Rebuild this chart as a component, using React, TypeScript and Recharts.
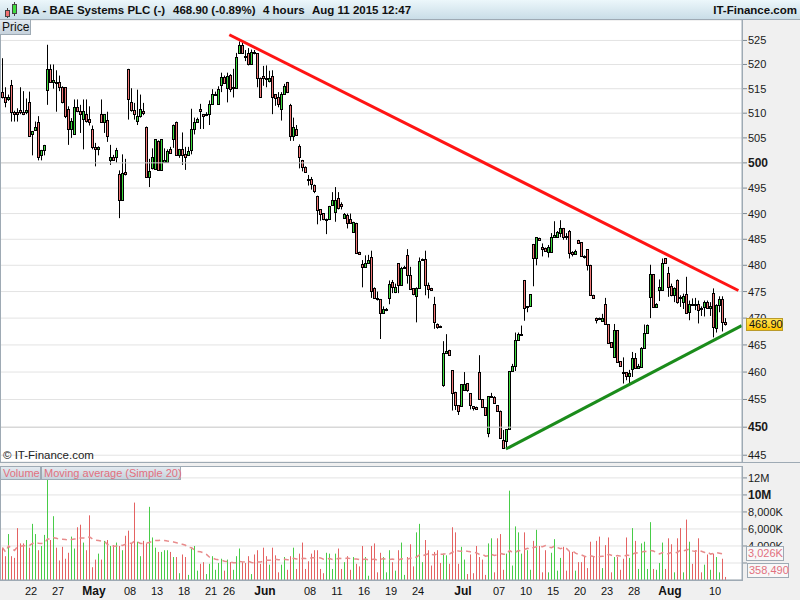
import React from 'react';
import { ComposedChart, Bar, Line, XAxis, YAxis, CartesianGrid, ReferenceLine } from 'recharts';

const FONT = "'Liberation Sans', Arial, sans-serif";

type OHLC = [number, number, number, number];

// 4-hour candles: [open, high, low, close]
const ohlcPart1: OHLC[] = [
  [514.3,521.3,513.0,513.2],[513.2,515.3,511.2,512.2],[512.9,513.8,512.5,513.2],[515.7,516.8,508.3,510.3],
  [510.3,510.5,508.3,509.8],[510.3,511.0,508.3,509.8],[510.7,515.3,509.8,510.3],[510.3,514.5,509.6,509.8],
  [510.3,513.0,509.8,510.6],[512.2,514.4,505.3,505.3],[505.7,506.4,501.5,506.4],[506.6,508.3,506.4,507.3],
  [508.3,509.4,500.5,501.2],[501.6,502.6,500.5,502.6],[502.6,503.6,501.5,503.6],[514.8,524.1,511.7,519.1],
  [519.1,520.0,516.3,516.3],[516.3,520.0,515.0,516.8],[516.4,518.8,510.3,516.3],[516.3,517.7,514.5,515.3],
  [515.3,515.5,512.0,512.2],[515.3,515.3,509.0,509.4],[510.9,511.4,503.6,506.8],[506.8,509.0,505.0,508.5],
  [505.7,512.8,505.7,511.2],[511.2,512.8,510.2,510.5],[510.5,511.7,506.0,509.8],[508.8,512.8,502.7,510.5],
  [509.8,512.8,508.1,508.5],[508.8,511.4,507.5,508.3],[506.8,507.5,502.7,503.2],[503.2,504.0,499.3,502.7],
  [502.7,503.3,501.5,503.2],[509.8,512.8,508.1,508.3],[508.3,509.8,506.0,509.8],[508.7,510.3,504.2,505.3],
  [500.5,503.6,499.6,501.2],[501.2,501.6,500.5,500.5],[501.2,503.0,500.0,502.6],[497.8,498.5,489.1,492.6],
  [492.6,501.7,492.6,497.9],[498.1,500.8,497.5,497.7],[519.1,519.1,508.7,512.8],[512.2,515.1,510.3,510.7],
  [510.7,512.1,508.7,509.9],[508.5,514.8,507.6,509.4],[509.4,513.8,509.1,510.9],[510.5,512.1,509.6,510.0],
  [507.3,507.3,497.2,497.2],[497.2,500.8,495.2,498.3],[499.0,502.9,498.7,501.2],[498.7,504.7,498.7,504.7],
  [504.3,504.5,498.5,498.5],[498.5,504.7,498.5,504.7],[500.2,502.9,500.0,500.6],[500.2,502.7,500.0,502.3],
  [502.7,503.2,501.9,501.9],[504.7,507.7,503.0,507.7],[508.3,508.3,501.6,501.6],[501.6,502.8,501.0,502.7],
  [502.7,506.1,499.6,501.6],
];

const ohlcPart2: OHLC[] = [
  [501.7,503.2,498.6,501.2],[501.5,503.2,501.5,502.3],[502.6,510.9,501.7,506.8],[506.8,509.1,505.7,508.3],
  [508.3,509.1,508.3,508.8],[510.9,511.9,506.8,510.4],[509.8,509.8,506.8,509.4],[509.6,510.2,509.4,509.8],
  [509.8,512.6,507.6,511.8],[511.8,514.9,511.7,513.9],[513.8,514.4,513.6,513.9],[511.8,515.5,511.8,514.9],
  [515.7,518.3,514.3,517.5],[517.5,517.7,516.0,516.2],[515.2,518.3,512.2,517.7],[517.8,518.0,514.3,514.9],
  [515.2,519.1,513.2,515.3],[515.2,522.4,515.2,521.6],[522.3,524.8,522.3,524.1],[524.1,524.5,522.3,522.3],
  [521.7,523.0,520.7,521.6],[522.4,523.4,519.8,520.2],[520.2,523.1,520.2,522.6],[522.6,523.0,522.1,522.3],
  [522.3,522.3,515.3,517.3],[517.3,517.3,513.2,513.2],[517.7,519.7,515.6,517.3],[517.3,519.8,515.3,517.1],
  [516.6,518.7,516.3,517.3],[517.7,518.8,509.8,513.2],[513.9,513.9,511.5,513.1],[513.2,514.3,511.2,511.9],
  [510.9,514.3,508.5,513.9],[513.9,516.0,513.9,515.6],[516.3,516.4,514.1,514.3],[511.7,511.9,504.4,505.4],
  [505.3,509.1,504.4,507.2],[506.8,507.6,505.6,505.6],[503.4,503.7,498.9,501.2],[500.6,500.6,498.3,499.1],
  [499.1,499.3,498.1,498.1],[496.8,497.6,495.5,496.7],[496.7,497.2,494.7,495.9],[495.7,495.7,494.0,494.4],
  [493.5,493.5,487.9,490.6],[490.8,490.8,488.6,490.0],[490.1,490.1,488.7,489.0],[489.0,489.0,486.0,489.0],
  [489.0,491.5,489.0,491.5],[491.7,494.2,491.5,492.6],[490.3,495.2,488.4,492.7],[493.0,494.2,490.8,491.0],
  [491.8,492.2,490.8,491.5],[489.2,490.1,489.2,489.9],[489.7,490.0,487.1,488.1],[489.0,490.0,488.1,488.2],
  [486.5,488.4,486.5,488.3],[488.2,488.2,482.4,482.4],[482.6,482.6,482.1,482.1],[480.2,481.0,475.8,479.6],
  [479.7,481.9,479.7,480.4],[480.4,482.0,480.4,481.0],[481.5,482.8,473.8,475.1],
];

const ohlcPart3: OHLC[] = [
  [475.6,475.8,473.7,473.8],[473.8,475.0,473.3,473.6],[473.6,473.6,466.1,470.9],[470.9,472.2,470.9,471.7],
  [471.5,471.9,471.3,471.7],[473.8,477.1,472.6,476.5],[476.8,477.2,474.7,475.8],[474.9,476.5,474.7,475.8],
  [480.4,480.4,474.7,476.2],[476.2,479.7,476.2,479.4],[479.4,479.9,479.3,479.6],[482.0,483.1,476.5,478.1],
  [478.1,479.7,475.5,475.5],[475.6,475.6,474.3,474.5],[474.2,475.8,469.2,475.6],[475.6,481.5,475.6,480.8],
  [481.0,481.3,481.0,481.2],[481.2,482.8,474.3,476.2],[476.3,476.7,473.7,475.4],[475.6,475.7,475.2,475.3],
  [472.7,474.0,468.0,469.2],[468.9,469.0,468.0,468.4],[468.5,468.6,468.3,468.4],[457.6,465.7,457.3,463.5],
  [463.5,467.0,463.4,463.8],[464.0,464.1,463.2,463.2],[460.3,460.3,453.0,456.2],[456.4,456.4,453.1,454.0],
  [454.0,454.0,452.2,453.0],[453.8,457.8,453.7,457.8],[456.8,460.0,456.8,457.9],[458.0,458.0,456.4,456.7],
  [456.1,456.1,453.2,454.0],[453.8,453.8,453.0,453.4],[453.6,453.7,453.1,453.2],[460.0,463.1,455.0,455.0],
  [455.0,455.0,453.6,453.6],[453.6,453.6,452.2,452.2],[449.0,455.6,448.2,455.6],[455.4,456.2,455.3,455.6],
  [455.5,455.6,454.4,454.4],[454.0,454.0,453.0,453.0],[453.0,453.0,448.0,448.0],[447.7,449.5,446.1,446.3],
  [447.6,449.6,446.3,449.6],[449.6,460.2,449.6,460.2],[460.2,461.5,460.2,461.2],[461.2,467.3,460.2,465.9],
  [465.9,467.3,465.9,467.0],[466.8,468.6,466.7,467.0],[477.2,477.2,469.5,471.9],[472.1,472.2,471.1,472.2],
  [472.2,474.5,472.2,474.5],[484.1,484.1,476.0,481.3],[481.3,485.4,480.0,485.4],[485.2,485.3,484.8,484.9],
  [483.5,484.2,481.7,483.1],[483.3,483.4,482.7,482.8],[482.6,483.9,481.5,483.5],[482.6,486.2,482.6,485.5],
  [485.4,488.5,485.3,485.8],[485.5,486.6,485.4,486.5],
];

const ohlcPart4: OHLC[] = [
  [486.2,488.7,485.4,487.1],[487.1,487.2,484.9,485.5],[485.6,486.2,484.9,485.4],[486.7,486.8,481.3,482.4],
  [482.6,482.7,481.7,482.2],[482.2,483.0,482.2,482.8],[484.9,484.9,484.2,484.2],[484.4,484.4,481.7,481.8],
  [481.8,481.9,481.3,481.5],[483.1,483.1,479.0,480.1],[480.1,480.1,474.3,474.3],[474.4,474.4,473.7,473.7],
  [470.0,470.1,469.0,469.7],[470.0,470.1,469.7,469.8],[469.5,470.8,469.4,470.1],[472.7,473.8,468.8,468.9],
  [468.9,468.9,465.3,465.3],[465.5,465.5,464.6,464.6],[462.7,468.9,462.7,467.7],[467.7,467.7,461.8,461.8],
  [462.0,462.0,461.2,461.2],[460.0,462.7,457.9,459.9],[460.0,460.0,458.5,459.3],[459.3,460.4,457.6,459.9],
  [460.6,463.7,459.1,462.6],[462.6,463.5,460.8,460.8],[460.8,461.5,460.8,461.2],[461.0,464.6,460.8,464.5],
  [464.5,468.8,464.5,467.3],[467.3,468.8,467.3,468.8],[474.0,480.1,470.0,478.3],[478.3,478.3,472.1,472.1],
  [472.1,472.8,472.1,472.7],[475.3,477.3,473.2,475.8],[475.3,481.3,475.3,480.5],[481.3,481.3,480.4,480.4],
  [478.5,479.7,474.0,475.8],[476.0,476.5,474.1,474.3],[474.3,475.8,473.0,475.6],[477.2,477.3,472.7,473.0],
  [474.0,474.3,472.1,473.7],[473.0,474.6,471.7,474.1],[474.5,477.8,470.8,470.9],[471.1,473.3,469.6,472.7],
  [472.7,473.7,472.5,472.6],[472.7,473.8,471.5,472.6],[472.7,473.3,469.0,471.5],[471.9,472.2,470.4,471.7],
  [472.1,473.3,470.3,473.0],[473.0,473.3,471.9,471.9],[471.9,473.0,470.4,472.2],[474.7,475.6,466.4,468.3],
  [468.1,472.6,467.3,472.4],[472.4,474.1,471.1,473.5],[473.5,474.1,467.5,469.2],[469.2,470.0,468.6,468.9],
];

// volume in millions of shares, one per candle
const volumeM: number[] = [
  3.8,2.8,5.4,2.8,2.6,6.1,4.3,4.3,4.7,3.8, 6.6,5.4,3.5,4.0,5.3,11.8,4.7,7.5,3.8,2.3,
  3.9,2.5,3.2,5.1,3.7,6.2,6.5,4.4,3.5,7.6, 1.5,2.4,3.1,2.4,4.6,4.7,4.0,4.1,4.4,4.0,
  3.5,5.2,5.8,4.3,9.1,4.5,2.8,4.6,4.3,8.6, 5.0,3.8,3.3,3.3,3.5,3.5,3.3,2.7,2.7,0.8,
  3.0,2.7,0.6,3.7,4.0,1.1,1.9,2.1,0.7,1.9, 2.8,1.2,2.0,2.5,1.1,2.4,2.1,1.2,2.8,3.7,
  2.1,2.0,2.8,0.7,3.0,3.5,1.9,3.8,2.8,1.8, 3.8,2.9,0.9,1.8,2.7,1.2,2.8,3.8,1.3,3.1,
  4.4,1.3,2.2,3.1,3.5,3.5,1.3,0.8,3.2,3.1, 1.3,3.1,3.7,1.3,2.1,2.8,1.2,2.7,1.9,1.6,
  4.0,2.7,0.5,4.0,4.3,0.9,3.2,2.7,0.9,3.5, 2.1,1.1,
  3.5,4.4,0.6,2.7,4.2,1.6,5.6,6.6,2.1,4.7, 3.5,1.7,3.3,3.5,2.0,3.1,2.9,1.9,6.2,5.6,
  1.9,3.9,2.4,0.7,3.0,0.8,4.0,2.7,2.4,0.6, 4.3,4.9,0.9,4.9,5.4,1.2,3.1,10.5,1.7,6.3,
  5.6,3.1,5.6,3.5,1.2,4.6,5.9,4.0,0.9,3.5, 0.9,3.2,4.8,1.1,2.6,3.9,1.1,3.4,3.3,1.1,
  2.1,2.1,2.7,1.4,4.5,2.8,4.6,5.1,1.4,4.1, 5.0,0.9,2.7,2.7,1.2,2.5,5.0,2.6,6.1,4.6,
  1.3,4.3,4.5,1.3,6.8,1.3,1.2,2.0,4.4,1.3, 4.9,4.2,0.9,4.9,6.1,0.9,7.1,4.5,1.9,3.5,
  4.9,0.9,1.8,3.0,1.2,3.1,2.7,0.9,2.5,0.358,
];

const xTickIdx = [9, 18, 30, 42, 51, 60, 69, 75, 87, 102, 111, 120, 129, 138, 153, 165, 174, 183, 192, 201, 210, 222, 237];
const xTickLabels = ['22','27','May','08','13','18','21','26','Jun','08','11','16','19','24','Jul','07','10','15','20','23','28','Aug','10'];

const priceTicks = [445,450,455,460,465,470,475,480,485,490,495,500,505,510,515,520,525];
const boldPrices = [450, 500];
const volTicks = [2, 4, 6, 8, 10, 12];
// the 2M label sits fully under the last-volume marker, so it shows no text
const volTickLabels = ['','4,000K','6,000K','8,000K','10M','12M'];

const resistance = [{ x: 75.6, y: 526.2 }, { x: 245.3, y: 475.2 }];
const support = [{ x: 167.8, y: 446.1 }, { x: 246.4, y: 468.6 }];

const lastPrice = '468.90';
const lastMA = '3,026K';
const lastVol = '358,490';

const SLOT_DOMAIN: [number, number] = [-0.5, 246.5];
const PRICE_DOMAIN: [number, number] = [443.8, 529.3];
const VOL_DOMAIN: [number, number] = [0, 13.4];

const CRED = '#f27878';
const CGREEN = '#3fdc3f';
const VRED = '#e46262';
const VGREEN = '#48cc48';
const BORDER = '#9eaab4';

const ohlc: OHLC[] = [...ohlcPart1, ...ohlcPart2, ...ohlcPart3, ...ohlcPart4];

const data = ohlc.map(([o, h, l, c], i) => {
  const start = Math.max(0, i - 19);
  const win = volumeM.slice(start, i + 1);
  return {
    i, o, h, l, c,
    range: [l, h],
    vol: volumeM[i],
    ma: win.reduce((a, b) => a + b, 0) / win.length,
  };
});

const renderCandle = (props: any) => {
  const { x, y, width, height, payload } = props;
  if (!payload || x == null || y == null) return <g />;
  const yTop = Math.min(y, y + height);
  const hh = Math.abs(height);
  const cx = Math.floor(x + width / 2) + 0.5;
  const { o, h, l, c } = payload;
  const span = Math.log(h) - Math.log(l);
  const k = span > 0 ? hh / span : 0;
  const py = (v: number) => yTop + (Math.log(h) - Math.log(v)) * k;
  const top = Math.round(Math.min(py(o), py(c))) + 0.5;
  let bot = Math.round(Math.max(py(o), py(c))) + 0.5;
  if (bot - top < 1) bot = top + 1;
  const up = c >= o;
  return (
    <g>
      <line x1={cx} x2={cx} y1={yTop} y2={yTop + hh} stroke="#000" strokeWidth={1} />
      <rect x={cx - 1} y={top} width={2} height={bot - top} fill={up ? CGREEN : CRED} stroke="#000" strokeWidth={1} />
    </g>
  );
};

const renderVolBar = (props: any) => {
  const { x, y, width, height, payload } = props;
  if (!payload || !height) return <g />;
  const cx = Math.floor(x + width / 2);
  const up = payload.c >= payload.o;
  return <rect x={cx} y={Math.min(y, y + height)} width={1} height={Math.abs(height)} fill={up ? VGREEN : VRED} />;
};

const PriceTick = (props: any) => {
  const { x, y, payload } = props;
  const v = payload.value;
  const b = boldPrices.includes(v);
  return (
    <text x={x} y={y} dy={4} textAnchor="start" fontSize={b ? 12 : 11} fontWeight={b ? 'bold' : 'normal'} fill="#1a1a1a" fontFamily={FONT}>
      {v}
    </text>
  );
};

const VolTick = (props: any) => {
  const { x, y, payload } = props;
  const idx = volTicks.indexOf(payload.value);
  const label = volTickLabels[idx];
  if (!label) return <g />;
  const b = label === '10M';
  return (
    <text x={x} y={y} dy={4} textAnchor="start" fontSize={b ? 12 : 11} fontWeight={b ? 'bold' : 'normal'} fill="#1a1a1a" fontFamily={FONT}>
      {label}
    </text>
  );
};

const DateTick = (props: any) => {
  const { x, y, payload } = props;
  const label = xTickLabels[xTickIdx.indexOf(payload.value)] || '';
  const isMonth = /[A-Za-z]/.test(label);
  return (
    <text x={x + 1.5} y={y + 7} textAnchor="middle" fontSize={isMonth ? 12 : 11} fontWeight={isMonth ? 'bold' : 'normal'} fill="#111" fontFamily={FONT}>
      {label}
    </text>
  );
};

const abs = (s: React.CSSProperties): React.CSSProperties => ({ position: 'absolute', ...s });

const legendBox: React.CSSProperties = {
  background: 'linear-gradient(#e3eaf0, #c6d2dc)',
  border: `1px solid ${BORDER}`,
  boxSizing: 'border-box',
  color: '#e2707e',
  fontSize: 11,
  lineHeight: '12px',
  paddingLeft: 2,
  whiteSpace: 'nowrap',
};

const headerText: React.CSSProperties = {
  fontSize: 11.5,
  fontWeight: 'bold',
  color: '#111',
  lineHeight: '14px',
  whiteSpace: 'nowrap',
};

export default function App() {
  return (
    <div style={{ position: 'fixed', left: 0, top: 0, width: 800, height: 600, background: '#f0f0f0', overflow: 'hidden', fontFamily: FONT }}>
      {/* price panel */}
      <div style={abs({ left: 0, top: 0 })}>
        <ComposedChart width={800} height={463} data={data} margin={{ top: 20, right: 0, bottom: 1, left: 1 }}>
          <CartesianGrid vertical={false} stroke="#e3e3e3" fill="#ffffff" />
          <XAxis type="number" dataKey="i" domain={SLOT_DOMAIN} allowDataOverflow hide />
          <YAxis
            orientation="right"
            scale="log"
            type="number"
            domain={PRICE_DOMAIN}
            allowDataOverflow
            ticks={priceTicks}
            interval={0}
            width={58}
            axisLine={{ stroke: BORDER }}
            tickLine={{ stroke: '#7e8a94' }}
            tickSize={5}
            tickMargin={1}
            tick={<PriceTick />}
          />
          <ReferenceLine y={500} stroke="#d0d0d0" />
          <ReferenceLine y={450} stroke="#d0d0d0" />
          <Bar dataKey="range" barSize={3} shape={renderCandle} isAnimationActive={false} />
          <ReferenceLine segment={resistance} stroke="#ff1414" strokeWidth={3} ifOverflow="visible" />
          <ReferenceLine segment={support} stroke="#1b8c1b" strokeWidth={3} ifOverflow="visible" />
        </ComposedChart>
      </div>

      {/* volume panel */}
      <div style={abs({ left: 0, top: 466 })}>
        <ComposedChart width={800} height={134} data={data} margin={{ top: 0, right: 0, bottom: 0, left: 1 }}>
          <CartesianGrid vertical={false} stroke="#e3e3e3" fill="#ffffff" />
          <XAxis
            type="number"
            dataKey="i"
            domain={SLOT_DOMAIN}
            allowDataOverflow
            ticks={xTickIdx}
            interval={0}
            height={20}
            axisLine={{ stroke: BORDER }}
            tickLine={false}
            tickSize={6}
            tickMargin={2}
            tick={<DateTick />}
          />
          <YAxis
            orientation="right"
            type="number"
            domain={VOL_DOMAIN}
            allowDataOverflow
            ticks={volTicks}
            interval={0}
            width={58}
            axisLine={{ stroke: BORDER }}
            tickLine={{ stroke: '#7e8a94' }}
            tickSize={5}
            tickMargin={1}
            tick={<VolTick />}
          />
          <Bar dataKey="vol" barSize={1} shape={renderVolBar} isAnimationActive={false} />
          <Line dataKey="ma" type="linear" stroke="#e88c8c" strokeWidth={1.5} strokeDasharray="5 4" dot={false} isAnimationActive={false} />
        </ComposedChart>
      </div>

      {/* panel borders */}
      <div style={abs({ left: 0, top: 20, width: 743, height: 443, borderLeft: `1px solid ${BORDER}`, borderRight: `1px solid ${BORDER}`, borderBottom: `1px solid ${BORDER}`, boxSizing: 'border-box', pointerEvents: 'none' })} />
      <div style={abs({ left: 742, top: 462, width: 58, height: 1, background: BORDER })} />
      <div style={abs({ left: 0, top: 466, width: 743, height: 115, border: `1px solid ${BORDER}`, boxSizing: 'border-box', pointerEvents: 'none' })} />

      {/* header */}
      <div style={abs({ left: 0, top: 0, width: 800, height: 20, background: 'linear-gradient(#ecf7fb, #c9dde7)', borderBottom: `1px solid ${BORDER}`, boxSizing: 'border-box' })}>
        <svg width={18} height={20} style={{ position: 'absolute', left: 2, top: 0 }}>
          <line x1={5.5} x2={5.5} y1={8} y2={18} stroke="#444" />
          <rect x={3.5} y={10.5} width={4} height={6} fill="#f07070" stroke="#444" />
          <line x1={12.5} x2={12.5} y1={2} y2={16} stroke="#444" />
          <rect x={10.5} y={4.5} width={4} height={9} fill="#3fdc3f" stroke="#444" />
        </svg>
        <div style={abs({ left: 23, top: 3, ...headerText })}>BA - BAE Systems PLC (-)</div>
        <div style={abs({ left: 173, top: 3, ...headerText })}>468.90 (-0.89%)</div>
        <div style={abs({ left: 263, top: 3, ...headerText })}>4 hours</div>
        <div style={abs({ left: 312, top: 3, ...headerText })}>Aug 11 2015 12:47</div>
        <div style={abs({ right: 3, top: 3, ...headerText })}>IT-Finance.com</div>
      </div>

      {/* Price label */}
      <div style={abs({ left: 0, top: 20, width: 31, height: 15, background: 'linear-gradient(#e3eaf0, #c6d2dc)', borderRight: `1px solid ${BORDER}`, borderBottom: `1px solid ${BORDER}`, boxSizing: 'border-box', fontSize: 12, lineHeight: '14px', paddingLeft: 2, color: '#111' })}>Price</div>

      {/* copyright */}
      <div style={abs({ left: 3, top: 449, fontSize: 11.5, color: '#222', lineHeight: '13px' })}>© IT-Finance.com</div>

      {/* volume legend */}
      <div style={abs({ left: 0, top: 466, width: 41, height: 14, ...legendBox })}>Volume</div>
      <div style={abs({ left: 41, top: 466, width: 140, height: 14, ...legendBox })}>Moving average (Simple 20)</div>

      {/* last price marker */}
      <div style={abs({ left: 746, top: 318, width: 37, height: 13, background: 'linear-gradient(#ffe45a, #ffc400)', border: '1px solid #b99a2a', boxSizing: 'border-box', fontSize: 11, lineHeight: '11px', paddingLeft: 2, color: '#111' })}>{lastPrice}</div>

      {/* MA and volume markers */}
      <div style={abs({ left: 746, top: 546, width: 38, height: 15, background: '#f8f8f8', border: `1px solid ${BORDER}`, boxSizing: 'border-box', fontSize: 11, lineHeight: '13px', paddingLeft: 1, color: '#e2707e' })}>{lastMA}</div>
      <div style={abs({ left: 747, top: 563, width: 42, height: 15, background: '#f8f8f8', border: `1px solid ${BORDER}`, boxSizing: 'border-box', fontSize: 11, lineHeight: '13px', paddingLeft: 1, color: '#e2707e' })}>{lastVol}</div>
    </div>
  );
}
